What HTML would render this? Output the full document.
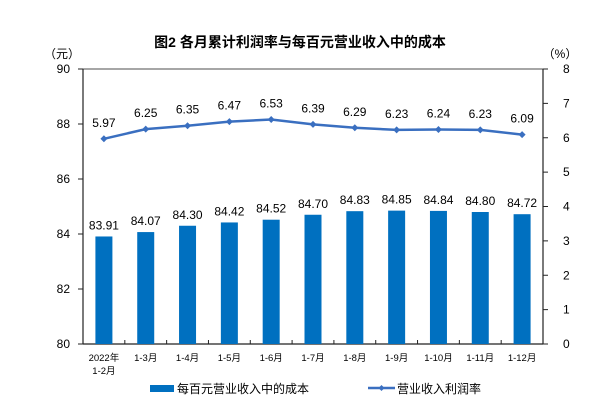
<!DOCTYPE html>
<html><head><meta charset="utf-8"><style>
body{margin:0;background:#fff;}
svg text{font-family:"Liberation Sans","Noto Sans CJK SC",sans-serif;}
</style></head><body>
<svg width="600" height="411" viewBox="0 0 600 411">
<text x="300" y="47" text-anchor="middle" font-size="14" font-weight="bold" fill="#000">图2  各月累计利润率与每百元营业收入中的成本</text>
<text x="62" y="58" text-anchor="middle" font-size="12">（元）</text>
<text x="560" y="58" text-anchor="middle" font-size="12">（%）</text>
<g id="axes"></g>
<g id="bars"></g>
<g id="line"></g>
<g>
<rect x="150" y="385" width="24" height="7" fill="#0070c0"/>
<text x="177" y="393" font-size="12">每百元营业收入中的成本</text>
<line x1="368" y1="388" x2="395" y2="388" stroke="#3a6fc0" stroke-width="2.5"/>
<path d="M381.5 385 L384.5 388 L381.5 391 L378.5 388Z" fill="#3a6fc0"/>
<text x="397" y="393" font-size="12">营业收入利润率</text>
</g>
</svg>
<script>
const categories=["1-2月","1-3月","1-4月","1-5月","1-6月","1-7月","1-8月","1-9月","1-10月","1-11月","1-12月"];
const costValues=[83.91,84.07,84.30,84.42,84.52,84.70,84.83,84.85,84.84,84.80,84.72];
const rateValues=[5.97,6.25,6.35,6.47,6.53,6.39,6.29,6.23,6.24,6.23,6.09];
const leftTicks=[80,82,84,86,88,90];
const rightTicks=[0,1,2,3,4,5,6,7,8];
const NS="http://www.w3.org/2000/svg";
const X0=83,X1=543,Y0=344,Y1=69;
const bw=(X1-X0)/categories.length;
const xc=i=>X0+bw*(i+0.5);
const yL=v=>Y0-(v-80)/10*(Y0-Y1);
const yR=v=>Y0-v/8*(Y0-Y1);
function mk(tag,attrs,parent,txt){const e=document.createElementNS(NS,tag);for(const k in attrs)e.setAttribute(k,attrs[k]);if(txt!==undefined)e.textContent=txt;parent.appendChild(e);return e;}
const ax=document.getElementById('axes'),bg=document.getElementById('bars'),lg=document.getElementById('line');
let e=mk('line',{x1:X0,y1:Y1,x2:X1,y2:Y1,stroke:'#888','stroke-width':1.5},ax);


e=mk('line',{x1:X0,y1:Y1,x2:X0,y2:Y0,stroke:'#222','stroke-width':1.2},ax);


e=mk('line',{x1:X1,y1:Y1,x2:X1,y2:Y0,stroke:'#222','stroke-width':1.2},ax);


e=mk('line',{x1:X0,y1:Y0,x2:X1,y2:Y0,stroke:'#222','stroke-width':1.2},ax);


leftTicks.forEach(v=>{mk('line',{x1:X0-5,y1:yL(v),x2:X0,y2:yL(v),stroke:'#222'},ax);
 const t=mk('text',{x:X0-13,y:yL(v)+4,'text-anchor':'end','font-size':12},ax,v);
 
 });
rightTicks.forEach(v=>{mk('line',{x1:X1,y1:yR(v),x2:X1+5,y2:yR(v),stroke:'#222'},ax);
 const t=mk('text',{x:X1+20,y:yR(v)+4,'text-anchor':'start','font-size':12},ax,v);
 
 });
for(let i=1;i<categories.length;i++)mk('line',{x1:X0+bw*i,y1:Y0-4,x2:X0+bw*i,y2:Y0,stroke:'#222'},ax);
categories.forEach((c,i)=>{
 const t=mk('text',{x:xc(i),y:Y0+17,'text-anchor':'middle','font-size':9.5},ax,i===0?'2022年':c);
 
 
 if(i===0){const t2=mk('text',{x:xc(i),y:Y0+30,'text-anchor':'middle','font-size':9.5},ax,c);
 
 }
});
costValues.forEach((v,i)=>{
 const r=mk('rect',{x:xc(i)-8.5,y:yL(v),width:17,height:Y0-yL(v),fill:'#0070c0'},bg);
 
 
 const t=mk('text',{x:xc(i),y:yL(v)-7,'text-anchor':'middle','font-size':12},bg,v.toFixed(2));
 
 
});
const pl=mk('polyline',{points:rateValues.map((v,i)=>xc(i)+','+yR(v)).join(' '),fill:'none',stroke:'#3a6fc0','stroke-width':2.5},lg);


rateValues.forEach((v,i)=>{
 const x=xc(i),y=yR(v);
 const p=mk('path',{d:`M${x} ${y-3.5} L${x+3.5} ${y} L${x} ${y+3.5} L${x-3.5} ${y}Z`,fill:'#3a6fc0'},lg);
 
 
 const t=mk('text',{x:x,y:y-12,'text-anchor':'middle','font-size':12},lg,v.toFixed(2));
 
 
});
</script>
</body></html>
